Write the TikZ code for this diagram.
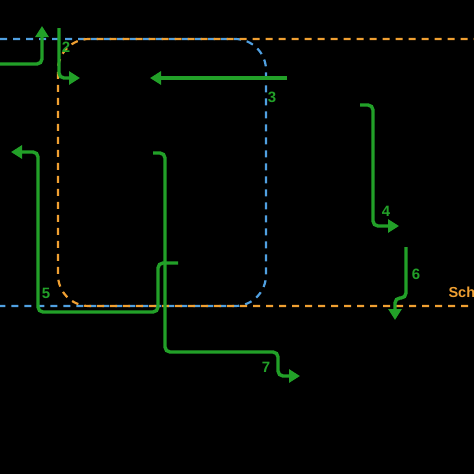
\documentclass[tikz,border=0pt]{standalone}
\usepackage{fontspec}
\setmainfont{Liberation Sans}
\usetikzlibrary{arrows.meta}
\definecolor{flowgreen}{RGB}{34,160,40}
\definecolor{lineblue}{RGB}{80,160,225}
\definecolor{lineorange}{RGB}{240,160,50}

\begin{document}
\begin{tikzpicture}[x=1pt,y=-1pt,
		flow/.style={flowgreen,line width=3.4pt,rounded corners=5pt,-{Triangle[length=11pt,width=13pt]}},
		bound/.style={line width=2.2pt,dash pattern=on 7pt off 6pt,rounded corners=31pt},
		num/.style={flowgreen,font=\fontsize{15}{15}\selectfont\bfseries}]
		\fill[black] (0,0) rectangle (474,474);
		\useasboundingbox (0,0) rectangle (474,474);
		\clip (0,0) rectangle (474,474);
		\draw[bound,lineblue] (0,39) -- (266,39) -- (266,306) -- (0,306);
		\draw[bound,lineorange,dash phase=6.5pt] (474,39) -- (58,39) -- (58,306) -- (474,306);
		\node[lineorange,font=\fontsize{14.5}{14.5}\selectfont\bfseries,anchor=west] (sch) at (445,292) {Sch};
		\coordinate (s1) at (0,64);
		\coordinate (e1) at (42,26);
		\draw[flow] (s1) -| (e1);
		\coordinate (s2) at (59,28);
		\coordinate (e2) at (80,78);
		\draw[flow] (s2) |- (e2);
		\node[num] (n2) at (66,47) {2};
		\coordinate (s3) at (287,78);
		\coordinate (e3) at (150,78);
		\draw[flow] (s3) -- (e3);
		\node[num] (n3) at (272,97) {3};
		\coordinate (s4) at (360,105);
		\coordinate (e4) at (399,226);
		\draw[flow] (s4) -| (373,226) -- (e4);
		\node[num] (n4) at (386,211) {4};
		\coordinate (s5) at (178,263);
		\coordinate (e5) at (11,152);
		\draw[flow] (s5) -| (158,312) -| (38,152) -- (e5);
		\node[num] (n5) at (46,293) {5};
		\coordinate (s6) at (406,247);
		\coordinate (e6) at (395,320);
		\draw[flow] (s6) -- (406,298) -| (e6);
		\node[num] (n6) at (416,274) {6};
		\coordinate (s7) at (153,153);
		\coordinate (e7) at (300,376);
		\draw[flow] (s7) -| (165,352) -| (278,376) -- (e7);
		\node[num] (n7) at (266,367) {7};
\end{tikzpicture}
\end{document}
